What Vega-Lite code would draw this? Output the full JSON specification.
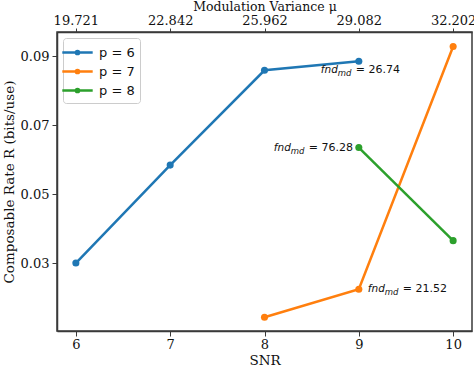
{
  "$schema": "https://vega.github.io/schema/vega-lite/v6.json",
  "width": 415,
  "height": 299,
  "autosize": {"type": "none"},
  "padding": {"left": 57, "top": 32, "right": 2, "bottom": 41},
  "background": "white",
  "datasets": {
    "rates": [
      {"snr": 6, "rate": 0.0300, "p": "p = 6"},
      {"snr": 7, "rate": 0.0584, "p": "p = 6"},
      {"snr": 8, "rate": 0.0859, "p": "p = 6"},
      {"snr": 9, "rate": 0.0885, "p": "p = 6"},
      {"snr": 8, "rate": 0.0143, "p": "p = 7"},
      {"snr": 9, "rate": 0.0224, "p": "p = 7"},
      {"snr": 10, "rate": 0.0928, "p": "p = 7"},
      {"snr": 9, "rate": 0.0635, "p": "p = 8"},
      {"snr": 10, "rate": 0.0365, "p": "p = 8"}
    ],
    "notes": [
      {"id": "a", "snr": 9, "rate": 0.0885, "val": "= 26.74"},
      {"id": "b", "snr": 9, "rate": 0.0635, "val": "= 76.28"},
      {"id": "c", "snr": 9, "rate": 0.0224, "val": "= 21.52"}
    ]
  },
  "config": {
    "font": "DejaVu Serif",
    "view": {"stroke": "#3a3a3a", "strokeWidth": 1.5},
    "axis": {
      "domainColor": "#3a3a3a", "domainWidth": 1.5,
      "tickColor": "#3a3a3a", "tickSize": 5, "tickWidth": 1,
      "labelFont": "DejaVu Serif", "labelFontSize": 13, "labelColor": "#111",
      "titleFont": "DejaVu Serif", "titleFontSize": 13.5, "titleFontWeight": "normal", "titleColor": "#111",
      "grid": false
    }
  },
  "layer": [
    {
      "data": {"name": "rates"},
      "mark": {"type": "line", "strokeWidth": 2.5},
      "encoding": {
        "x": {"field": "snr", "type": "quantitative",
              "scale": {"domain": [5.8, 10.2], "nice": false, "zero": false},
              "axis": {"orient": "bottom", "values": [6, 7, 8, 9, 10], "format": "d", "title": "SNR", "labelPadding": 2, "titlePadding": 2}},
        "y": {"field": "rate", "type": "quantitative",
              "scale": {"domain": [0.0103, 0.097], "nice": false, "zero": false},
              "axis": {"values": [0.03, 0.05, 0.07, 0.09], "format": ".2f", "title": "Composable Rate R (bits/use)", "labelPadding": 3, "titlePadding": 4}},
        "color": {"field": "p", "type": "nominal",
                  "scale": {"domain": ["p = 6", "p = 7", "p = 8"], "range": ["#1f77b4", "#ff7f0e", "#2ca02c"]},
                  "legend": {"title": null, "orient": "top-left", "offset": 6, "padding": 5,
                             "cornerRadius": 3, "strokeColor": "#cccccc", "fillColor": "white",
                             "labelFont": "DejaVu Sans", "labelFontSize": 13, "labelColor": "#111",
                             "symbolType": "M-1.9,0H1.9M-0.2,0A0.2,0.2 0 1,1 0.2,0A0.2,0.2 0 1,1 -0.2,0Z",
                             "symbolSize": 256, "symbolStrokeWidth": 2.5, "labelOffset": 12, "rowPadding": 2}}
      }
    },
    {
      "data": {"name": "rates"},
      "mark": {"type": "circle", "size": 50, "opacity": 1},
      "encoding": {
        "x": {"field": "snr", "type": "quantitative",
              "scale": {"domain": [5.8, 10.2], "nice": false, "zero": false},
              "axis": {"orient": "top", "values": [6, 7, 8, 9, 10], "title": "Modulation Variance μ", "tickSize": 4, "labelPadding": 1, "titlePadding": 1, "titleFontSize": 12.5,
                       "labelExpr": "datum.value == 6 ? '19.721' : datum.value == 7 ? '22.842' : datum.value == 8 ? '25.962' : datum.value == 9 ? '29.082' : '32.202'"}},
        "y": {"field": "rate", "type": "quantitative"},
        "color": {"field": "p", "type": "nominal", "legend": null}
      }
    },
    {
      "data": {"name": "notes"},
      "transform": [{"filter": "datum.id == 'a'"}],
      "layer": [
        {"mark": {"type": "text", "text": "fnd", "font": "DejaVu Sans", "fontStyle": "italic", "fontSize": 10.5, "align": "left", "baseline": "middle", "dx": -38, "dy": 9, "color": "#111"}},
        {"mark": {"type": "text", "text": "md", "font": "DejaVu Sans", "fontStyle": "italic", "fontSize": 8.5, "align": "left", "baseline": "middle", "dx": -21, "dy": 12, "color": "#111"}},
        {"mark": {"type": "text", "font": "DejaVu Sans", "fontSize": 11, "align": "left", "baseline": "middle", "dx": -3, "dy": 9, "color": "#111"}, "encoding": {"text": {"field": "val"}}}
      ],
      "encoding": {
        "x": {"field": "snr", "type": "quantitative", "axis": null},
        "y": {"field": "rate", "type": "quantitative"}
      }
    },
    {
      "data": {"name": "notes"},
      "transform": [{"filter": "datum.id == 'b'"}],
      "layer": [
        {"mark": {"type": "text", "text": "fnd", "font": "DejaVu Sans", "fontStyle": "italic", "fontSize": 10.5, "align": "left", "baseline": "middle", "dx": -85, "dy": 0, "color": "#111"}},
        {"mark": {"type": "text", "text": "md", "font": "DejaVu Sans", "fontStyle": "italic", "fontSize": 8.5, "align": "left", "baseline": "middle", "dx": -68, "dy": 3, "color": "#111"}},
        {"mark": {"type": "text", "font": "DejaVu Sans", "fontSize": 11, "align": "left", "baseline": "middle", "dx": -50, "dy": 0, "color": "#111"}, "encoding": {"text": {"field": "val"}}}
      ],
      "encoding": {
        "x": {"field": "snr", "type": "quantitative", "axis": null},
        "y": {"field": "rate", "type": "quantitative"}
      }
    },
    {
      "data": {"name": "notes"},
      "transform": [{"filter": "datum.id == 'c'"}],
      "layer": [
        {"mark": {"type": "text", "text": "fnd", "font": "DejaVu Sans", "fontStyle": "italic", "fontSize": 10.5, "align": "left", "baseline": "middle", "dx": 9, "dy": 0, "color": "#111"}},
        {"mark": {"type": "text", "text": "md", "font": "DejaVu Sans", "fontStyle": "italic", "fontSize": 8.5, "align": "left", "baseline": "middle", "dx": 26, "dy": 3, "color": "#111"}},
        {"mark": {"type": "text", "font": "DejaVu Sans", "fontSize": 11, "align": "left", "baseline": "middle", "dx": 44, "dy": 0, "color": "#111"}, "encoding": {"text": {"field": "val"}}}
      ],
      "encoding": {
        "x": {"field": "snr", "type": "quantitative", "axis": null},
        "y": {"field": "rate", "type": "quantitative"}
      }
    }
  ],
  "resolve": {"axis": {"x": "independent"}}
}
